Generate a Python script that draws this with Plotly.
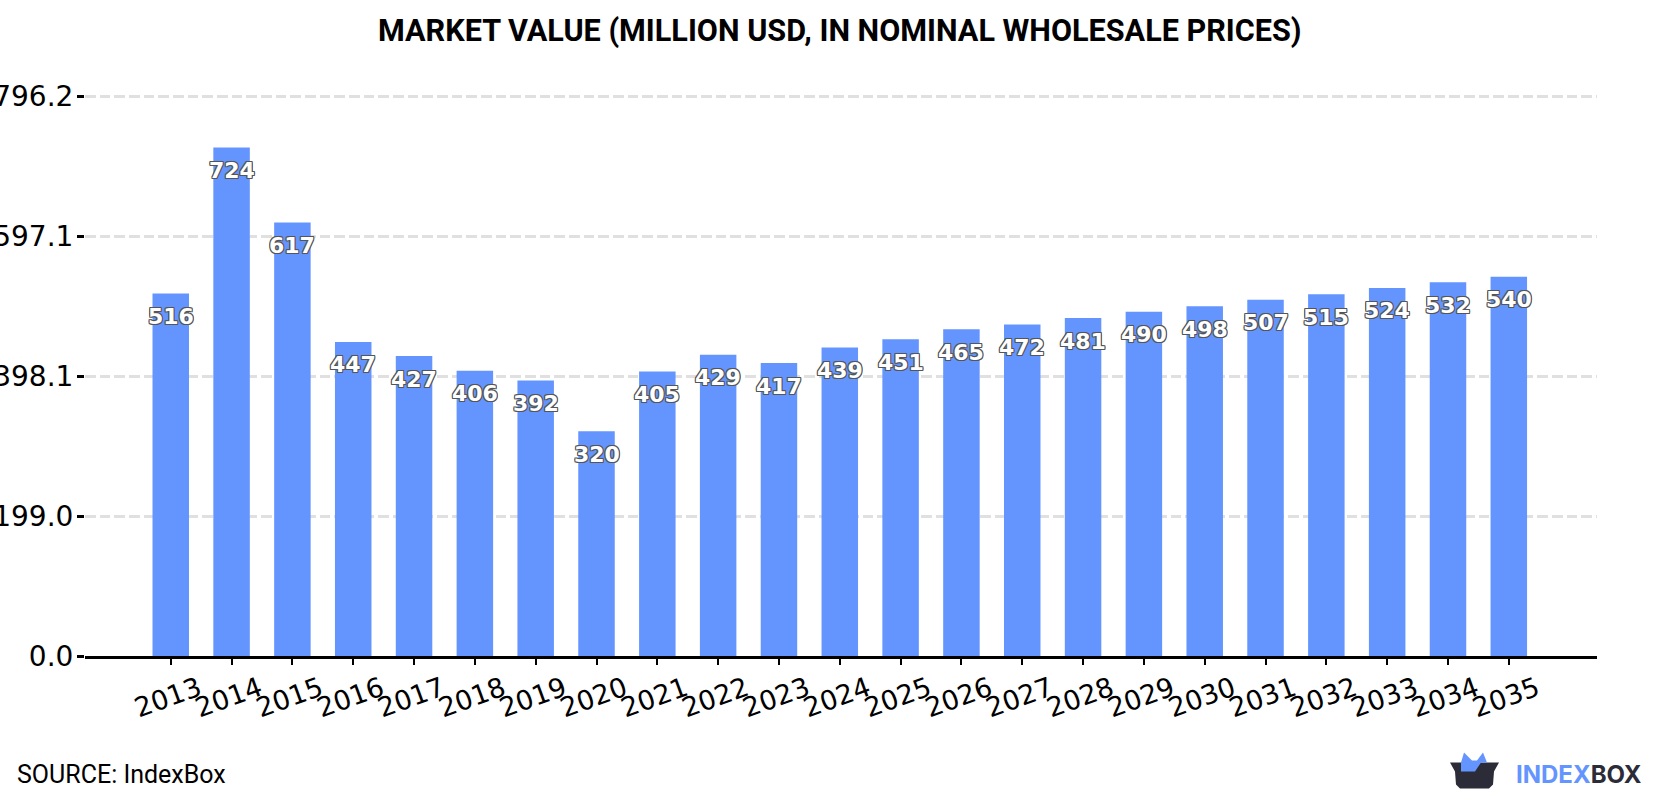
import plotly.graph_objects as go

years = [str(y) for y in range(2013, 2036)]
values = [516, 724, 617, 447, 427, 406, 392, 320, 405, 429, 417, 439,
          451, 465, 472, 481, 490, 498, 507, 515, 524, 532, 540]
y_ticks = [0.0, 199.0, 398.1, 597.1, 796.2]
y_tick_labels = ["0.0", "199.0", "398.1", "597.1", "796.2"]

WIDTH, HEIGHT = 1680, 800
LEFT, RIGHT, BOTTOM = 85, 1597, 656.4
Y_MAX = 800.0
PX_PER_UNIT = 559.7 / 796.2
TOP = BOTTOM - Y_MAX * PX_PER_UNIT
BLUE = "#6495ff"
DARK = "#2b2c38"


def fx(px):
    return (px - LEFT) / (RIGHT - LEFT)


def fy(px):
    return (BOTTOM - px) / (BOTTOM - TOP)


def logo_path(points):
    return "M" + " L".join(f"{fx(x):.5f},{fy(y):.5f}" for x, y in points) + " Z"


outline = ",".join(f"{dx}px {dy}px 0.6px #555" for dx, dy in
                   [(-1, -1), (1, -1), (-1, 1), (1, 1), (-1, 0), (1, 0), (0, -1), (0, 1)])

fig = go.Figure(go.Bar(x=years, y=values, width=0.6, marker=dict(color=BLUE, line_width=0),
                       hoverinfo="x+y"))

# Value labels sit just under the top of each bar; category axes take the serial index here
for index, value in enumerate(values):
    fig.add_annotation(xref="x", yref="y", x=index, y=value, yshift=-23, text=str(value),
                       showarrow=False, yanchor="middle",
                       font=dict(family="DejaVu Sans", size=22, color="white",
                                 weight="bold", shadow=outline))

fig.add_annotation(xref="paper", yref="paper", x=fx(840), y=fy(31), xanchor="center", yanchor="middle",
                   text="<b>MARKET VALUE (MILLION USD, IN NOMINAL WHOLESALE PRICES)</b>",
                   showarrow=False, font=dict(family="Roboto", size=30.6, color="black"))
fig.add_annotation(xref="paper", yref="paper", x=fx(15), y=fy(775), xanchor="left", yanchor="middle",
                   text="SOURCE: IndexBox", showarrow=False,
                   font=dict(family="Roboto", size=25, color="black"))
fig.add_annotation(xref="paper", yref="paper", x=fx(1514), y=fy(775), xanchor="left", yanchor="middle",
                   text=f"<b><span style='color:{BLUE}'>INDEX</span><span style='color:{DARK}'>BOX</span></b>",
                   showarrow=False, font=dict(family="Inter", size=24))

fig.update_layout(
    width=WIDTH, height=HEIGHT, autosize=False,
    margin=dict(l=LEFT, r=WIDTH - RIGHT, t=TOP, b=HEIGHT - BOTTOM, pad=0, autoexpand=False),
    paper_bgcolor="white", plot_bgcolor="white", showlegend=False,
    font=dict(family="DejaVu Sans", color="black"),
    xaxis=dict(type="category", automargin=False, range=[-1.41, 23.45],
               categoryorder="array", categoryarray=years,
               tickangle=-20, ticklabelshift=28, ticklabelstandoff=-2,
               tickfont=dict(family="DejaVu Sans", size=27, color="black"),
               ticks="outside", ticklen=6, tickwidth=2, tickcolor="black",
               showline=True, linecolor="black", linewidth=2.5, showgrid=False, zeroline=False),
    yaxis=dict(automargin=False, range=[0, Y_MAX], tickmode="array", tickvals=y_ticks,
               ticktext=y_tick_labels, ticklabelstandoff=-2,
               tickfont=dict(family="DejaVu Sans", size=28, color="black"),
               ticks="outside", ticklen=7, tickwidth=2.5, tickcolor="black",
               showline=False, zeroline=False, showgrid=True,
               gridcolor="#e0e0e0", gridwidth=2.5, griddash="10.67px,4px"),
    shapes=[
        dict(type="path", xref="paper", yref="paper", layer="above", line_width=0, fillcolor=DARK,
             path=logo_path([(1450, 763), (1499, 763), (1494, 772), (1493, 785), (1489, 789),
                             (1460, 789), (1456, 785), (1455, 772)])),
        dict(type="path", xref="paper", yref="paper", layer="above", line_width=0, fillcolor=BLUE,
             path=logo_path([(1461, 772), (1461, 763), (1464, 753), (1472, 761), (1477, 761),
                             (1483, 753), (1487, 763), (1481, 763), (1475, 772)])),
    ],
)

fig.write_html("out.html", config=dict(displayModeBar=False))
